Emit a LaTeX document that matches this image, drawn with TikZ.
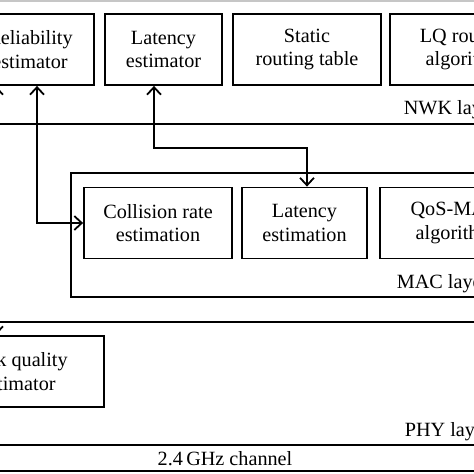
\documentclass[tikz,border=0pt]{standalone}
\usepackage{fontspec}
\setmainfont{Liberation Serif}
\usetikzlibrary{arrows.meta}
\usetikzlibrary{positioning}

\begin{document}
\begin{tikzpicture}[x=0.02cm, y=-0.02cm, line width=0.36mm,
  >={Straight Barb[length=1.5mm,width=2.8mm]},
  every node/.style={font=\fontsize{11.5}{13.5}\selectfont},
  block/.style={draw, align=center, inner sep=0pt, minimum height=71*0.02cm},
  layertext/.style={anchor=west, inner sep=0pt}]

\useasboundingbox (0,0) rectangle (474,474);
\clip (0,0) rectangle (474,474);

% NWK layer
\draw[gray!45] (-80,1) -- (560,1);
\node[block, minimum width=128*0.02cm] (rel) at (30,49.5) {Reliability\\estimator};
\node[block, minimum width=117*0.02cm] (lat) at (163.5,49.5) {Latency\\estimator};
\node[block, minimum width=148*0.02cm] (static) at (307,49.5) {Static\\routing table};
\node[block, minimum width=150*0.02cm] (lq) at (465,49.5) {LQ routing\\algorithm};
\node[layertext] (nwk) at (403,110) {NWK layer};
\draw (-80,124) -- (560,124);

% MAC layer
\draw (71,173) rectangle (560,297);
\node[block, minimum width=148*0.02cm] (coll) at (158,223) {Collision rate\\estimation};
\node[block, minimum width=125*0.02cm] (late) at (304.5,223) {Latency\\estimation};
\node[block, minimum width=150*0.02cm] (qos) at (455,223) {QoS-MAC\\algorithm};
\node[layertext] (mac) at (396,284) {MAC layer};

% PHY layer
\draw (-80,322) rectangle (560,445);
\node[block, minimum width=172*0.02cm] (link) at (18,371.5) {Link quality\\estimator};
\node[layertext] (phy) at (404,432) {PHY layer};

% channel
\draw (-80,445) rectangle (560,471);
\node (chan) at (225,458.5) {2.4\,GHz channel};

% connectors
\coordinate (bend) at (307,148);
\draw[<->] ([xshift=-34*0.02cm]rel.south) -- ([xshift=-34*0.02cm]rel.south |- link.north);
\draw[<->] ([xshift=7*0.02cm]rel.south) |- (coll.west);
\draw[<->] ([xshift=-9.5*0.02cm]lat.south) |- (bend) -- (bend |- late.north);

\end{tikzpicture}
\end{document}
